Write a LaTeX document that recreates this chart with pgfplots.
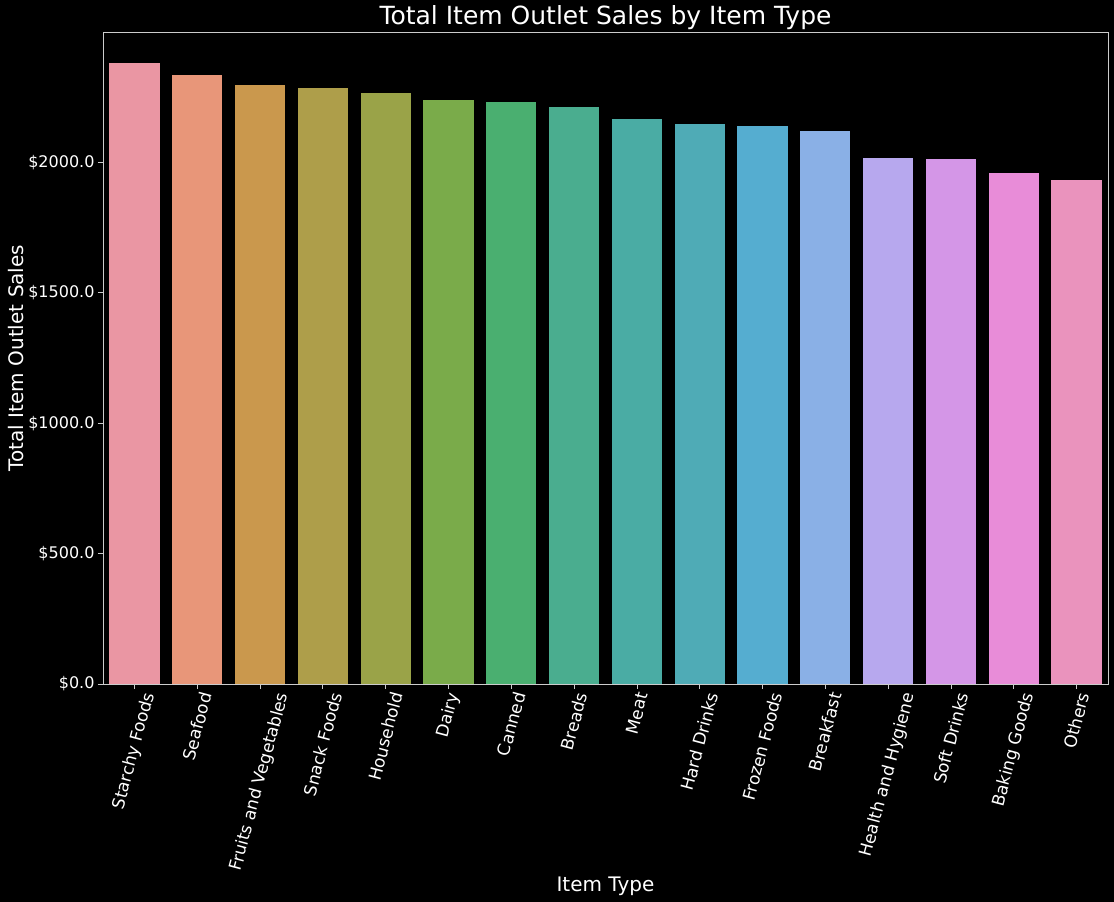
\documentclass[border=0pt]{standalone}
\usepackage{fontspec}
\setmainfont{DejaVu Sans}
\usepackage{graphicx}
\usepackage{pgfplots}
\pgfplotsset{compat=1.18}
\definecolor{fr}{RGB}{204,204,204}
\definecolor{c1}{RGB}{234,150,163}
\definecolor{c2}{RGB}{232,150,121}
\definecolor{c3}{RGB}{202,152,77}
\definecolor{c4}{RGB}{174,158,74}
\definecolor{c5}{RGB}{154,163,72}
\definecolor{c6}{RGB}{122,171,74}
\definecolor{c7}{RGB}{74,175,112}
\definecolor{c8}{RGB}{74,173,143}
\definecolor{c9}{RGB}{74,172,164}
\definecolor{c10}{RGB}{79,171,182}
\definecolor{c11}{RGB}{85,173,208}
\definecolor{c12}{RGB}{138,176,230}
\definecolor{c13}{RGB}{183,168,238}
\definecolor{c14}{RGB}{212,150,231}
\definecolor{c15}{RGB}{232,140,216}
\definecolor{c16}{RGB}{234,147,189}
\begin{document}
\begin{tikzpicture}
\fill[black] (-103pt,-218pt) rectangle (1011pt,684pt);
\begin{axis}[
  scale only axis,
  width=1005pt, height=652pt,
  xmin=-0.5, xmax=15.5, ymin=0, ymax=2500,
  ybar, bar width=0.8, bar shift=0pt,
  axis line style={fr, line width=0.8pt},
  tick style={fr, line width=0.8pt},
  tick align=outside, major tick length=5pt,
  xtick={0,...,15},
  xtick pos=bottom, ytick pos=left,
  ytick={0,500,1000,1500,2000},
  /pgf/number format/assume math mode=true,
  yticklabel={\$\pgfmathprintnumber[fixed,fixed zerofill,precision=1,1000 sep={}]{\tick}},
  yticklabel style={font=\fontsize{16}{19}\selectfont, text=white},
  xticklabel style={font=\fontsize{17}{20}\selectfont, text=white, anchor=north, inner sep=2pt},
  xticklabels={
    \rotatebox{75}{Starchy Foods},
    \rotatebox{75}{Seafood},
    \rotatebox{75}{Fruits and Vegetables},
    \rotatebox{75}{Snack Foods},
    \rotatebox{75}{Household},
    \rotatebox{75}{Dairy},
    \rotatebox{75}{Canned},
    \rotatebox{75}{Breads},
    \rotatebox{75}{Meat},
    \rotatebox{75}{Hard Drinks},
    \rotatebox{75}{Frozen Foods},
    \rotatebox{75}{Breakfast},
    \rotatebox{75}{Health and Hygiene},
    \rotatebox{75}{Soft Drinks},
    \rotatebox{75}{Baking Goods},
    \rotatebox{75}{Others}},
  title={Total Item Outlet Sales by Item Type},
  title style={at={(axis description cs:0.5,1)}, anchor=center, yshift=8pt, font=\fontsize{25}{29}\selectfont, text=white},
  xlabel={Item Type},
  xlabel style={at={(axis description cs:0.5,0)}, anchor=center, yshift=-202pt, font=\fontsize{20}{24}\selectfont, text=white},
  ylabel={Total Item Outlet Sales},
  ylabel style={at={(axis description cs:-0.0866,0.5)}, anchor=center, font=\fontsize{20}{24}\selectfont, text=white},
  every axis plot/.append style={draw=none},
]
\addplot[fill=c1] coordinates {(0,2382)};
\addplot[fill=c2] coordinates {(1,2336)};
\addplot[fill=c3] coordinates {(2,2298)};
\addplot[fill=c4] coordinates {(3,2286)};
\addplot[fill=c5] coordinates {(4,2267)};
\addplot[fill=c6] coordinates {(5,2240)};
\addplot[fill=c7] coordinates {(6,2233)};
\addplot[fill=c8] coordinates {(7,2214)};
\addplot[fill=c9] coordinates {(8,2168)};
\addplot[fill=c10] coordinates {(9,2148)};
\addplot[fill=c11] coordinates {(10,2141)};
\addplot[fill=c12] coordinates {(11,2122)};
\addplot[fill=c13] coordinates {(12,2018)};
\addplot[fill=c14] coordinates {(13,2014)};
\addplot[fill=c15] coordinates {(14,1961)};
\addplot[fill=c16] coordinates {(15,1934)};
\end{axis}
\pgfresetboundingbox
\path (-103pt,-218pt) rectangle (1011pt,684pt);
\end{tikzpicture}
\end{document}
